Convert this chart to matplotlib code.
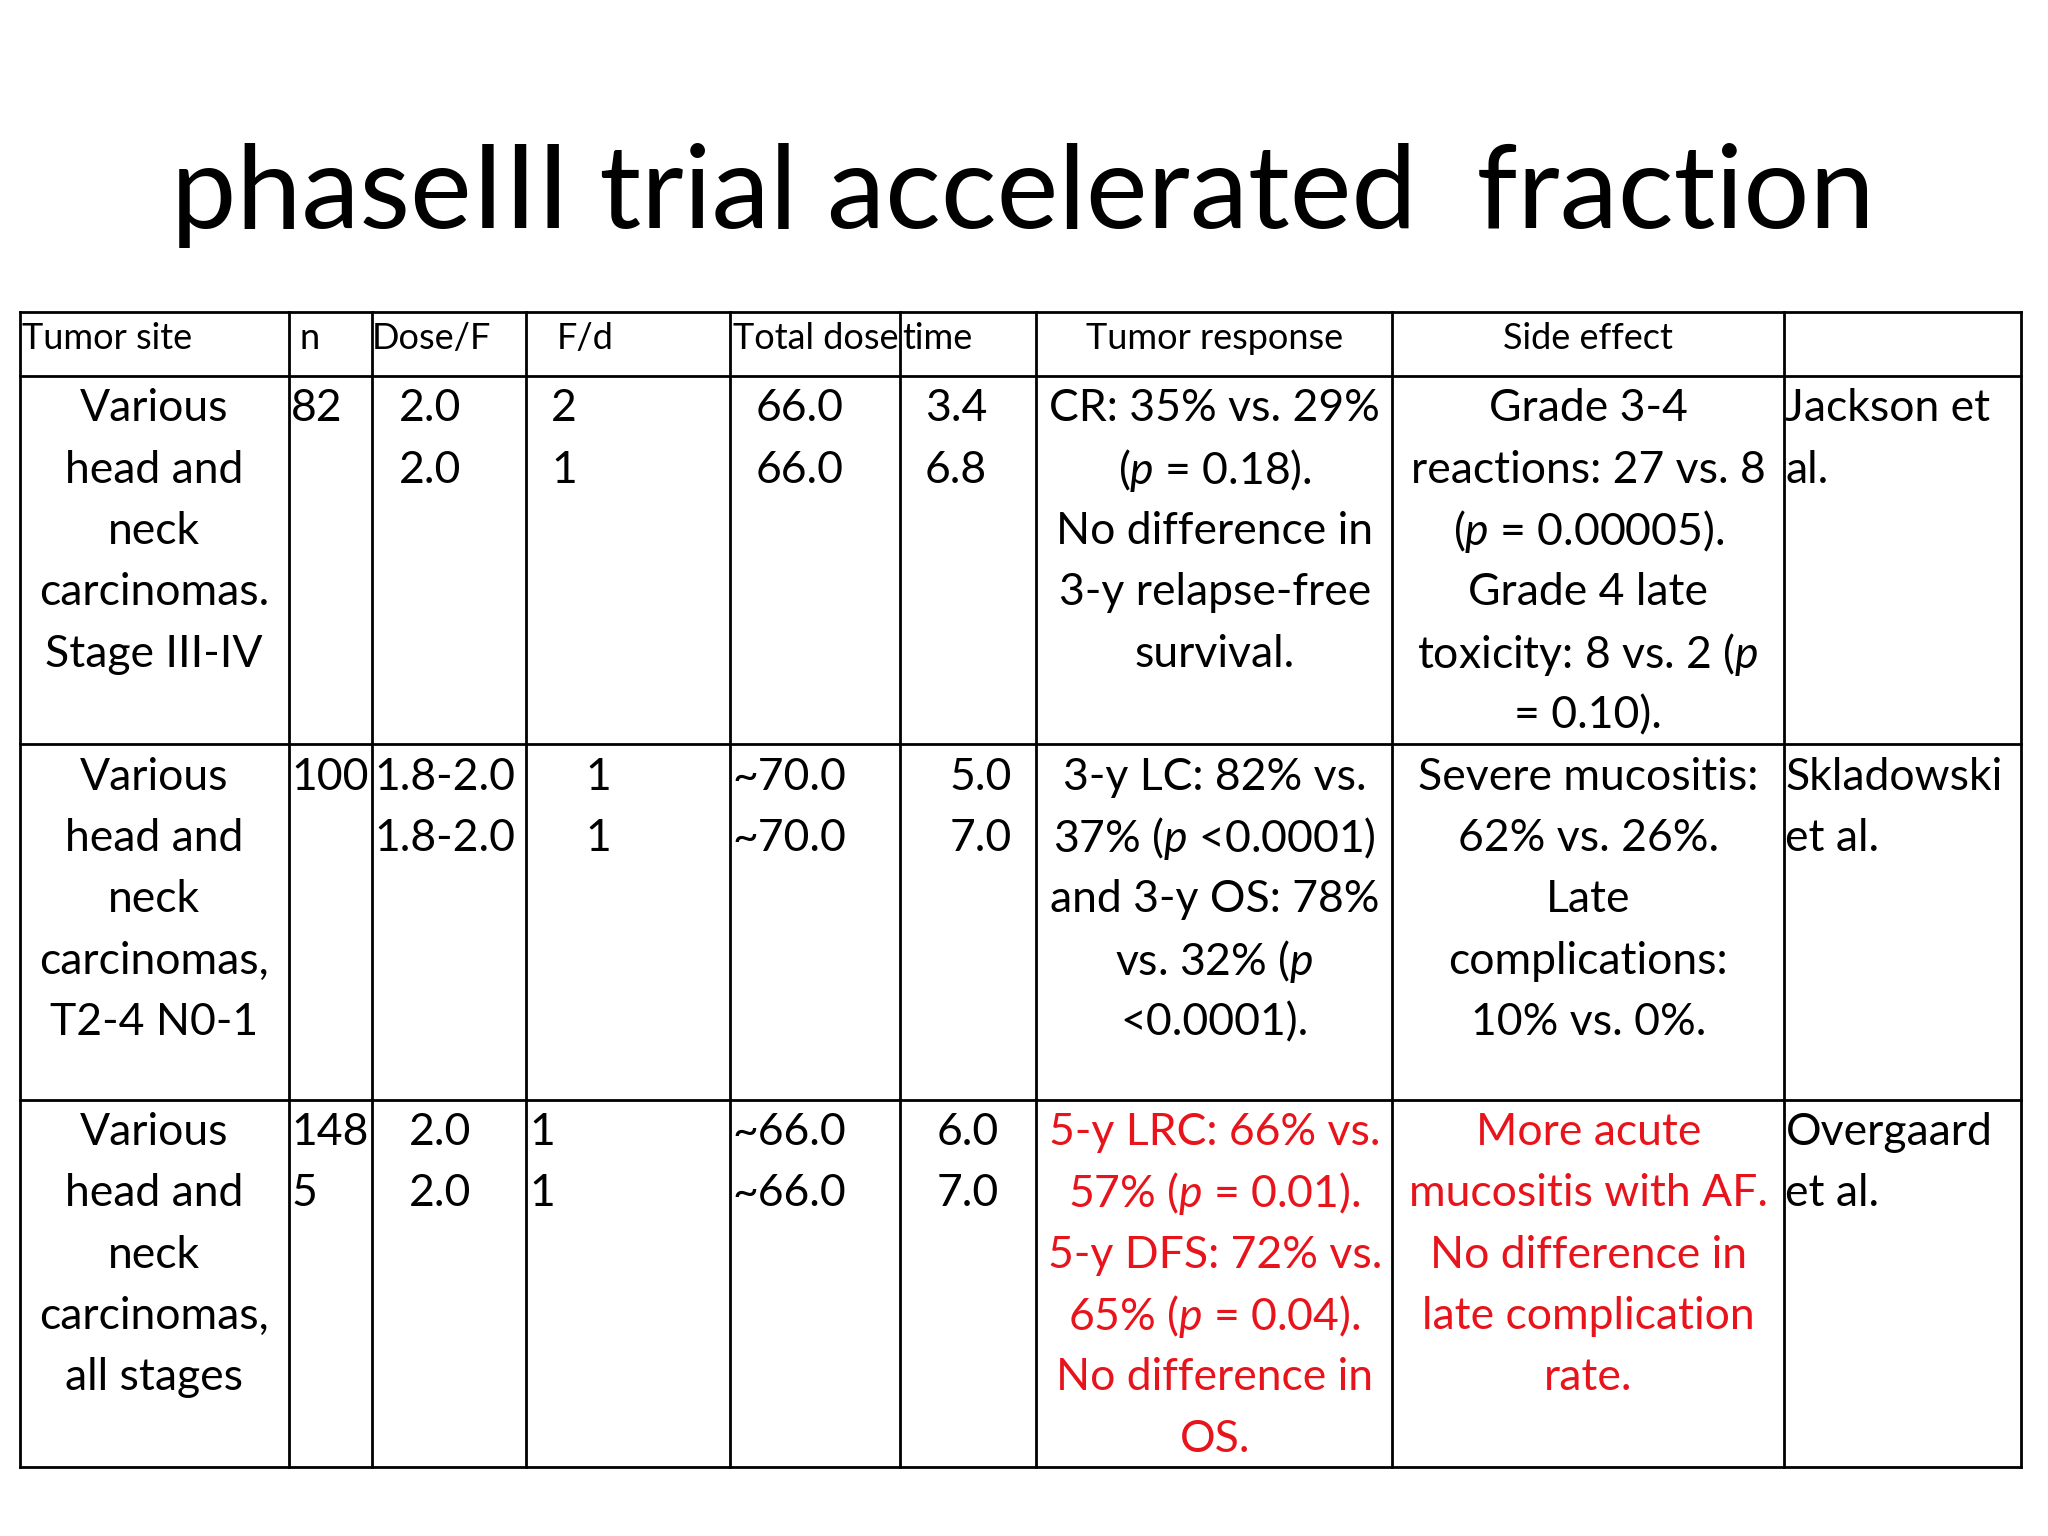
import matplotlib.pyplot as plt

plt.rcParams['font.family'] = ['Lato', 'DejaVu Sans']
plt.rcParams['mathtext.fontset'] = 'custom'
plt.rcParams['mathtext.it'] = 'Lato:italic'
plt.rcParams['mathtext.rm'] = 'Lato'

title = "phaseIII trial accelerated  fraction"
headers = ["Tumor site", "n", "Dose/F", "F/d", "Total dose", "time",
           "Tumor response", "Side effect", ""]

# each row: list of cells, each cell is list of lines
site = [["Various", "head and", "neck", "carcinomas.", "Stage III-IV"],
        ["Various", "head and", "neck", "carcinomas,", "T2-4 N0-1"],
        ["Various", "head and", "neck", "carcinomas,", "all stages"]]
n_pat = [["82"], ["100"], ["148", "5"]]
dose_f = [["2.0", "2.0"], ["1.8-2.0", "1.8-2.0"], ["2.0", "2.0"]]
f_d = [["2", "1"], ["1", "1"], ["1", "1"]]
total = [["66.0", "66.0"], ["~70.0", "~70.0"], ["~66.0", "~66.0"]]
time_w = [["3.4", "6.8"], ["5.0", "7.0"], ["6.0", "7.0"]]
response = [["CR: 35% vs. 29%", "($p$ = 0.18).", "No difference in",
             "3-y relapse-free", "survival."],
            ["3-y LC: 82% vs.", "37% ($p$ <0.0001)", "and 3-y OS: 78%",
             "vs. 32% ($p$", "<0.0001)."],
            ["5-y LRC: 66% vs.", "57% ($p$ = 0.01).", "5-y DFS: 72% vs.",
             "65% ($p$ = 0.04).", "No difference in", "OS."]]
side = [["Grade 3-4", "reactions: 27 vs. 8", "($p$ = 0.00005).",
         "Grade 4 late", "toxicity: 8 vs. 2 ($p$", "= 0.10)."],
        ["Severe mucositis:", "62% vs. 26%.", "Late", "complications:",
         "10% vs. 0%."],
        ["More acute", "mucositis with AF.", "No difference in",
         "late complication", "rate."]]
ref = [["Jackson et", "al."], ["Skladowski", "et al."], ["Overgaard", "et al."]]

col_x = [15, 221, 285, 403, 559, 689, 793, 1066, 1366, 1547]
row_y = [239, 288, 570, 842, 1123]
row_first = [313, 595, 867]
step = 47
red = '#e8141c'
fs = 32

fig = plt.figure(figsize=(20.48, 15.36), dpi=100)
ax = fig.add_axes([0, 0, 1, 1])
ax.set_xlim(0, 1568)
ax.set_ylim(1176, 0)
ax.axis('off')

ax.text(783, 150, title, ha='center', va='center', fontsize=84)

for x in col_x:
    ax.plot([x, x], [row_y[0], row_y[-1]], color='black', lw=2)
for y in row_y:
    ax.plot([col_x[0], col_x[-1]], [y, y], color='black', lw=2)

hdr_pos = [(17, 'left'), (229, 'left'), (330, 'center'), (448, 'center'),
           (561, 'left'), (691, 'left'), (930, 'center'), (1216, 'center'),
           (1456, 'center')]
for h, (x, ha) in zip(headers, hdr_pos):
    ax.text(x, 259, h, ha=ha, va='center', fontsize=26)

def cell(lines, x, r, ha, color='black'):
    for i, s in enumerate(lines):
        ax.text(x, row_first[r] + i * step, s, ha=ha, va='center',
                fontsize=fs, color=color)

for r in range(3):
    cell(site[r], 118, r, 'center')
    cell(n_pat[r], 223, r, 'left')
    if r == 1:
        cell(dose_f[r], 287, r, 'left')
        cell(f_d[r], 458, r, 'center')
        cell(total[r], 561, r, 'left')
        cell(time_w[r], 775, r, 'right')
    else:
        cell(dose_f[r], 329 if r == 0 else 337, r, 'center')
        cell(f_d[r], 422 if r == 0 else 405, r, 'left')
        if r == 0:
            cell(total[r], 612, r, 'center')
            cell(time_w[r], 708, r, 'left')
        else:
            cell(total[r], 561, r, 'left')
            cell(time_w[r], 741, r, 'center')
    c = red if r == 2 else 'black'
    cell(response[r], 930, r, 'center', c)
    cell(side[r], 1216, r, 'center', c)
    cell(ref[r], 1367, r, 'left')

fig.savefig('out.png', dpi=100, facecolor='white')
